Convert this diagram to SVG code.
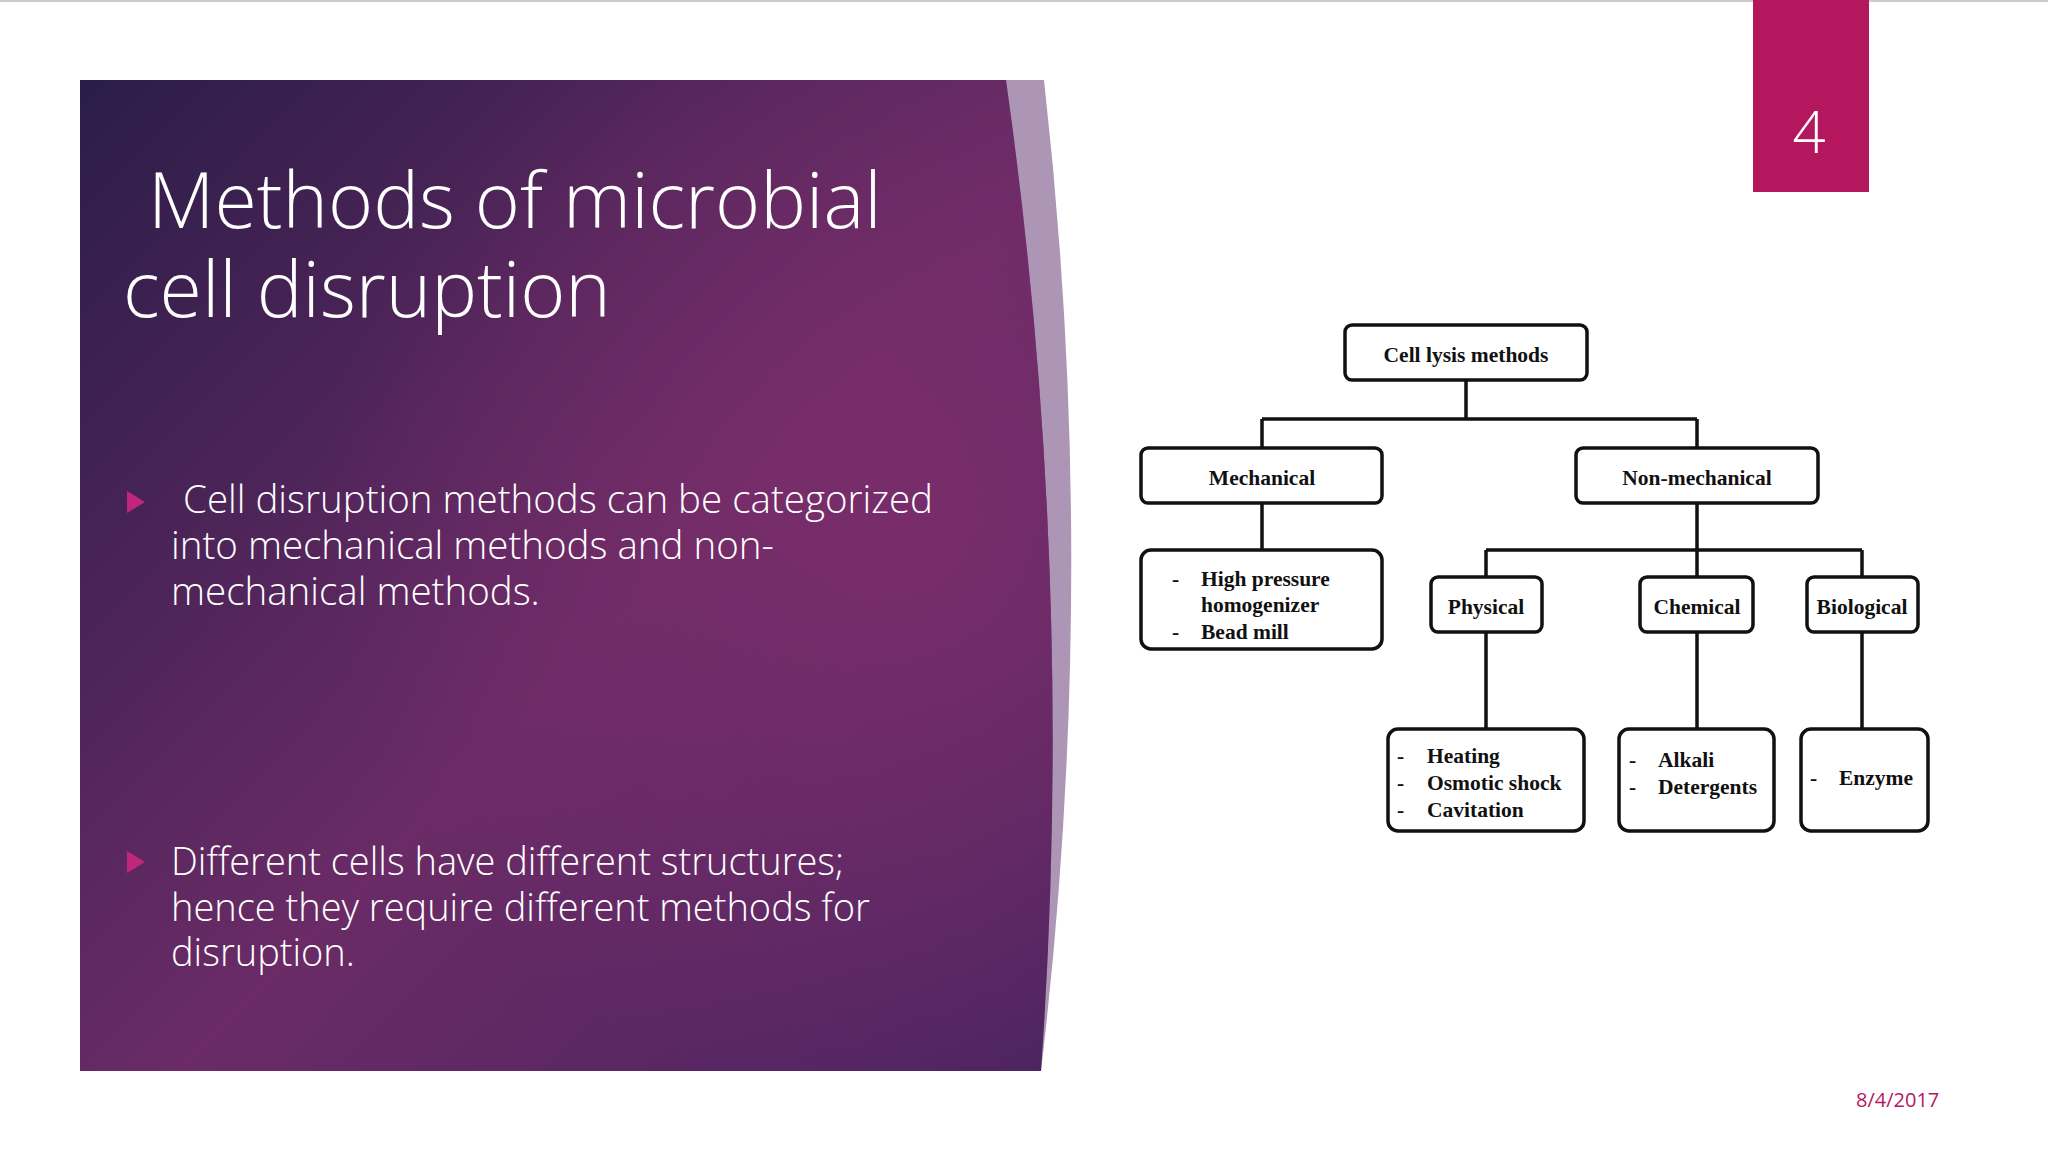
<svg xmlns="http://www.w3.org/2000/svg" width="2048" height="1152" viewBox="0 0 2048 1152">
<defs>
<linearGradient id="g" x1="0" y1="0" x2="1" y2="1">
<stop offset="0" stop-color="#2b1d48"/>
<stop offset="0.55" stop-color="#6a2b66"/>
<stop offset="1" stop-color="#4a2460"/>
</linearGradient>
<radialGradient id="r" cx="0.85" cy="0.45" r="0.6">
<stop offset="0" stop-color="#7e2e6c" stop-opacity="0.8"/>
<stop offset="1" stop-color="#7e2e6c" stop-opacity="0"/>
</radialGradient>
<style>
.b{fill:#fff;stroke:#111;stroke-width:3.5}
.t{font-family:"Liberation Serif",serif;font-weight:bold;font-size:21.5px;fill:#111}
.c{fill:none;stroke:#111;stroke-width:3.5}
.w{font-family:"Open Sans",sans-serif;font-weight:300;fill:#fff}
</style>
</defs>
<rect width="2048" height="1152" fill="#fff"/>
<line x1="0" y1="1" x2="2048" y2="1" stroke="#ccc" stroke-width="2"/>
<g id="panel">
<path d="M80 80 H1044 Q1100 575 1041 1071 H80 Z" fill="#8a6a95" opacity="0.7"/>
<path d="M80 80 H1006 Q1076 575 1041 1071 H80 Z" fill="url(#g)"/>
<path d="M80 80 H1006 Q1076 575 1041 1071 H80 Z" fill="url(#r)"/>
</g>
<text class="w" x="148" y="228" font-size="77">Methods of microbial</text>
<text class="w" x="123" y="317" font-size="77">cell disruption</text>
<polygon points="127,491 145,502 127,513" fill="#c0267a"/>
<text class="w" font-size="38.5"><tspan x="183" y="513">Cell disruption methods can be categorized</tspan><tspan x="171" y="559">into mechanical methods and non-</tspan><tspan x="171" y="605">mechanical methods.</tspan></text>
<polygon points="127,851 145,862 127,873" fill="#c0267a"/>
<text class="w" font-size="38"><tspan x="171" y="875">Different cells have different structures;</tspan><tspan x="171" y="921">hence they require different methods for</tspan><tspan x="171" y="966">disruption.</tspan></text>
<g id="pagenum"><rect x="1753" y="0" width="116" height="192" fill="#b5175f"/><text x="1809" y="153" font-family="Open Sans,sans-serif" font-weight="300" font-size="58" fill="#fff" text-anchor="middle">4</text></g>
<text x="1856" y="1107" font-family="Open Sans,sans-serif" font-size="20" fill="#b5175f">8/4/2017</text>
<g id="connectors">
<path class="c" d="M1466 380 V419 M1262 419 H1697 M1262 419 V448 M1697 419 V448 M1262 503 V550 M1697 503 V550 M1486 550 H1862 M1486 550 V577 M1697 550 V577 M1862 550 V577 M1486 632 V729 M1697 632 V729 M1862 632 V729"/>
</g>
<g id="root"><rect class="b" x="1345" y="325" width="242" height="55" rx="7"/><text class="t" x="1466" y="362" text-anchor="middle">Cell lysis methods</text></g>
<g id="mech"><rect class="b" x="1141" y="448" width="241" height="55" rx="7"/><text class="t" x="1262" y="485" text-anchor="middle">Mechanical</text></g>
<g id="nonmech"><rect class="b" x="1576" y="448" width="242" height="55" rx="7"/><text class="t" x="1697" y="485" text-anchor="middle">Non-mechanical</text></g>
<g id="mechlist"><rect class="b" x="1141" y="550" width="241" height="99" rx="10"/><text class="t"><tspan x="1172" y="586">-</tspan><tspan x="1201" y="586">High pressure</tspan><tspan x="1201" y="612">homogenizer</tspan><tspan x="1172" y="639">-</tspan><tspan x="1201" y="639">Bead mill</tspan></text></g>
<g id="physical"><rect class="b" x="1431" y="577" width="111" height="55" rx="7"/><text class="t" x="1486" y="614" text-anchor="middle">Physical</text></g>
<g id="chemical"><rect class="b" x="1640" y="577" width="113" height="55" rx="7"/><text class="t" x="1697" y="614" text-anchor="middle">Chemical</text></g>
<g id="biological"><rect class="b" x="1807" y="577" width="111" height="55" rx="7"/><text class="t" x="1862" y="614" text-anchor="middle">Biological</text></g>
<g id="physlist"><rect class="b" x="1388" y="729" width="196" height="102" rx="10"/><text class="t"><tspan x="1397" y="763">-</tspan><tspan x="1427" y="763">Heating</tspan><tspan x="1397" y="790">-</tspan><tspan x="1427" y="790">Osmotic shock</tspan><tspan x="1397" y="817">-</tspan><tspan x="1427" y="817">Cavitation</tspan></text></g>
<g id="chemlist"><rect class="b" x="1619" y="729" width="155" height="102" rx="10"/><text class="t"><tspan x="1629" y="767">-</tspan><tspan x="1658" y="767">Alkali</tspan><tspan x="1629" y="794">-</tspan><tspan x="1658" y="794">Detergents</tspan></text></g>
<g id="biolist"><rect class="b" x="1801" y="729" width="127" height="102" rx="10"/><text class="t"><tspan x="1810" y="785">-</tspan><tspan x="1839" y="785">Enzyme</tspan></text></g>
</svg>
